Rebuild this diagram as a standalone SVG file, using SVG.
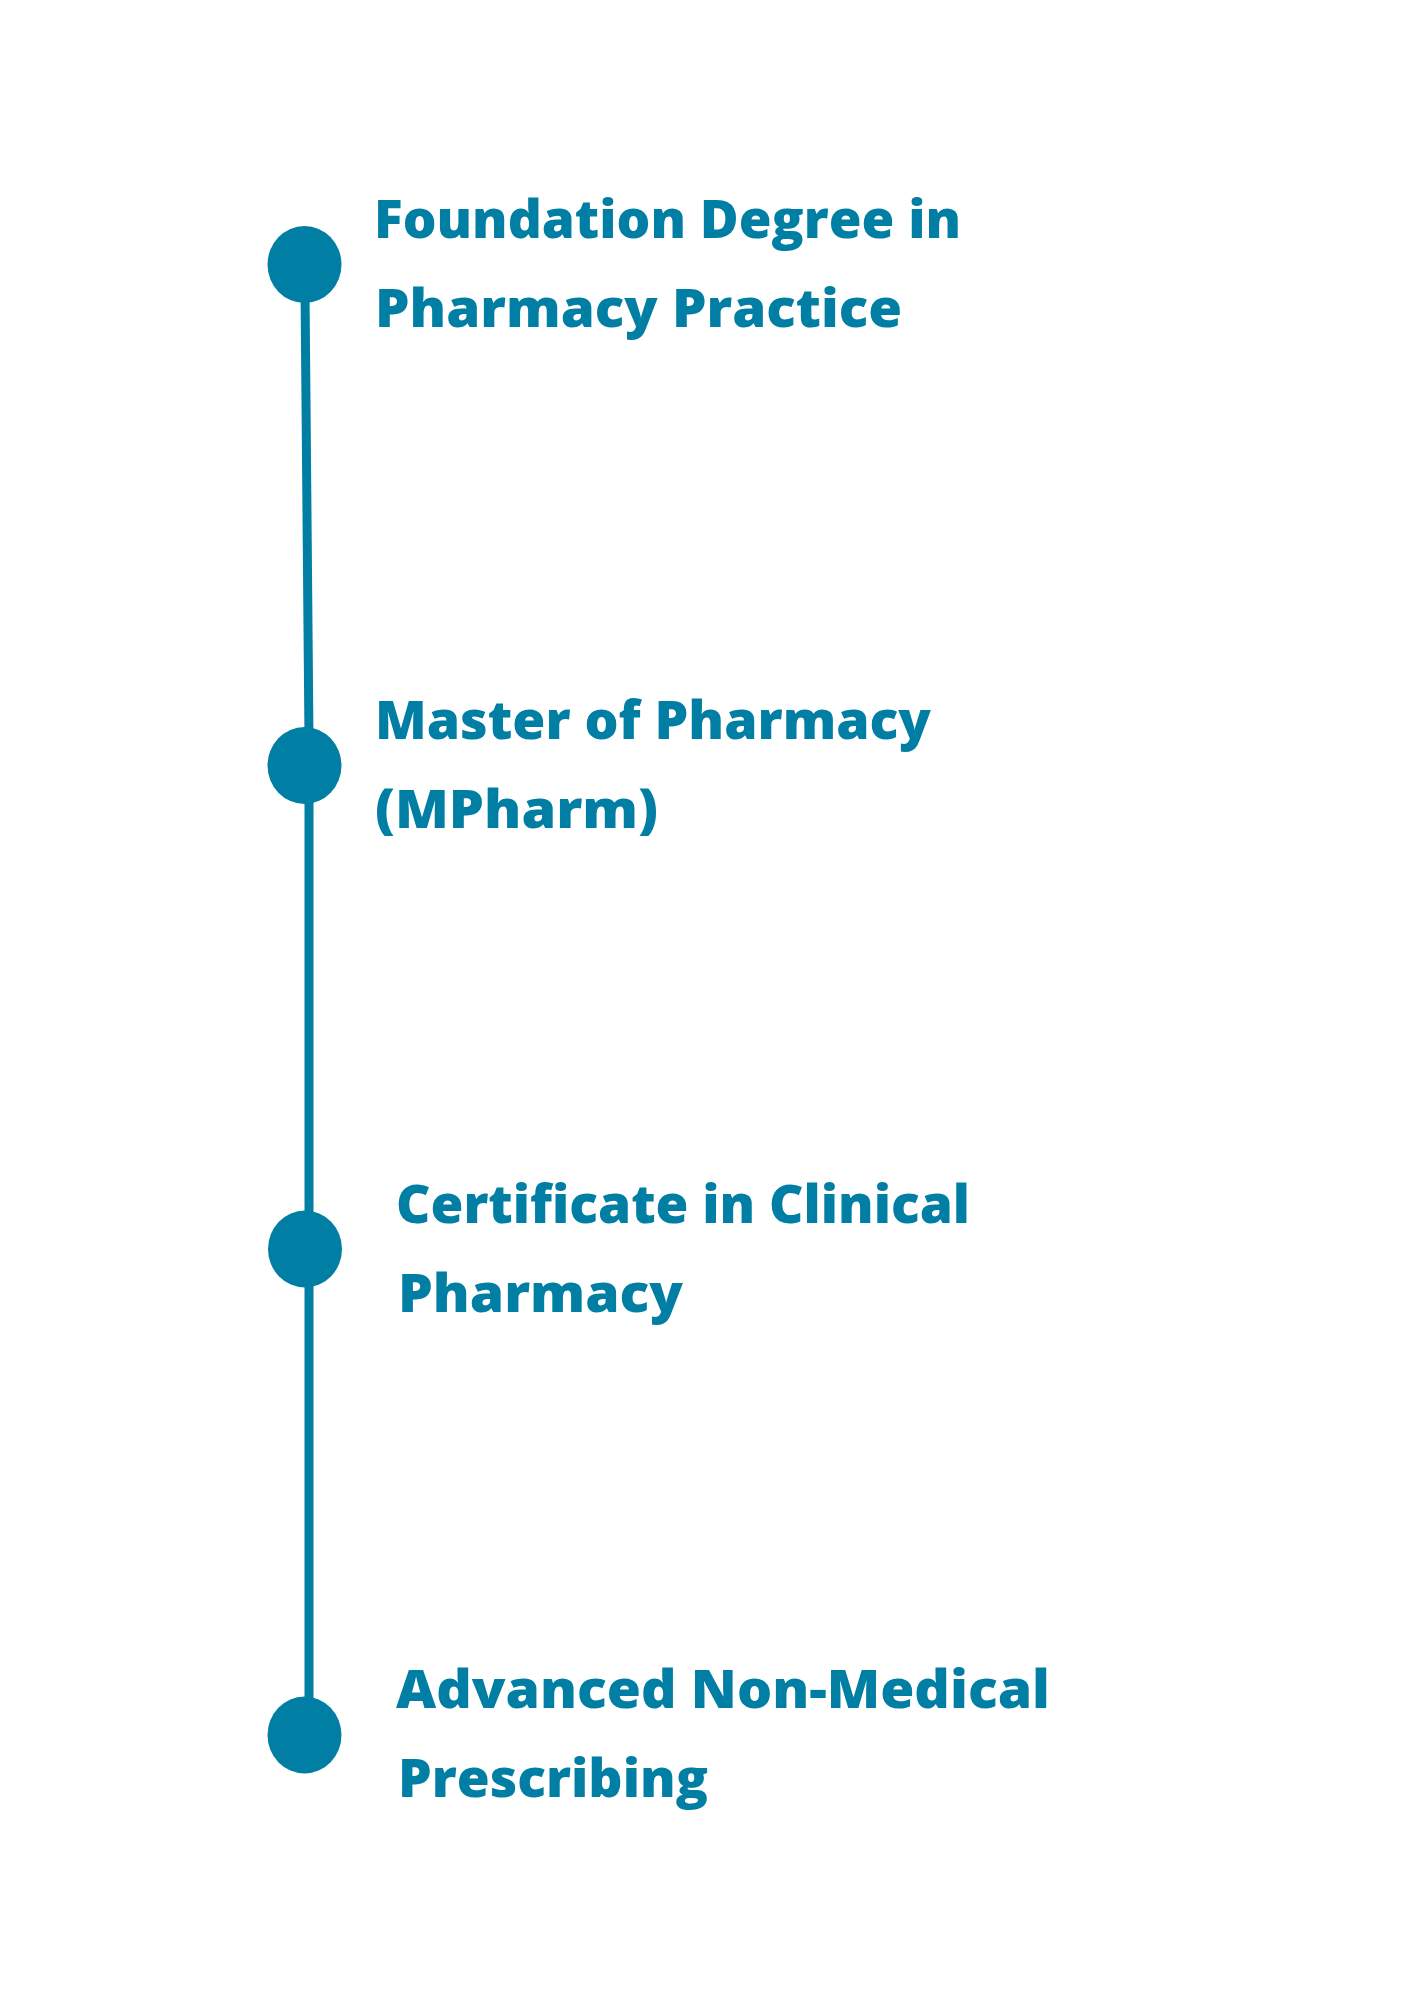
<svg xmlns="http://www.w3.org/2000/svg" width="1414" height="2000" viewBox="0 0 1414 2000">
<style>
.dot{fill:#007EA3;}
.lbl{fill:#007EA3;font-family:"Open Sans","Liberation Sans",sans-serif;font-weight:800;font-size:53px;}
.conn{stroke:#007EA3;stroke-width:9;fill:none;}
</style>
<rect width="1414" height="2000" fill="#ffffff"/>
<g id="connectors">
<line class="conn" x1="305" y1="290" x2="309" y2="740"/>
<line class="conn" x1="309" y1="740" x2="309" y2="1710"/>
</g>
<g id="node1">
<ellipse class="dot" cx="304.5" cy="264.5" rx="37" ry="38.5"/>
<text class="lbl" x="374" y="238" textLength="587" lengthAdjust="spacingAndGlyphs">Foundation Degree in</text>
<text class="lbl" x="375" y="327" textLength="527" lengthAdjust="spacingAndGlyphs">Pharmacy Practice</text>
</g>
<g id="node2">
<ellipse class="dot" cx="304.5" cy="765.5" rx="37" ry="38.5"/>
<text class="lbl" x="375" y="739" textLength="556" lengthAdjust="spacingAndGlyphs">Master of Pharmacy</text>
<text class="lbl" x="375" y="828" textLength="283" lengthAdjust="spacingAndGlyphs">(MPharm)</text>
</g>
<g id="node3">
<ellipse class="dot" cx="305" cy="1249" rx="37" ry="38.5"/>
<text class="lbl" x="396" y="1223" textLength="574" lengthAdjust="spacingAndGlyphs">Certificate in Clinical</text>
<text class="lbl" x="398" y="1312" textLength="285" lengthAdjust="spacingAndGlyphs">Pharmacy</text>
</g>
<g id="node4">
<ellipse class="dot" cx="304.5" cy="1735" rx="37" ry="38.5"/>
<text class="lbl" x="396" y="1708" textLength="654" lengthAdjust="spacingAndGlyphs">Advanced Non-Medical</text>
<text class="lbl" x="398" y="1797" textLength="310" lengthAdjust="spacingAndGlyphs">Prescribing</text>
</g>
</svg>
